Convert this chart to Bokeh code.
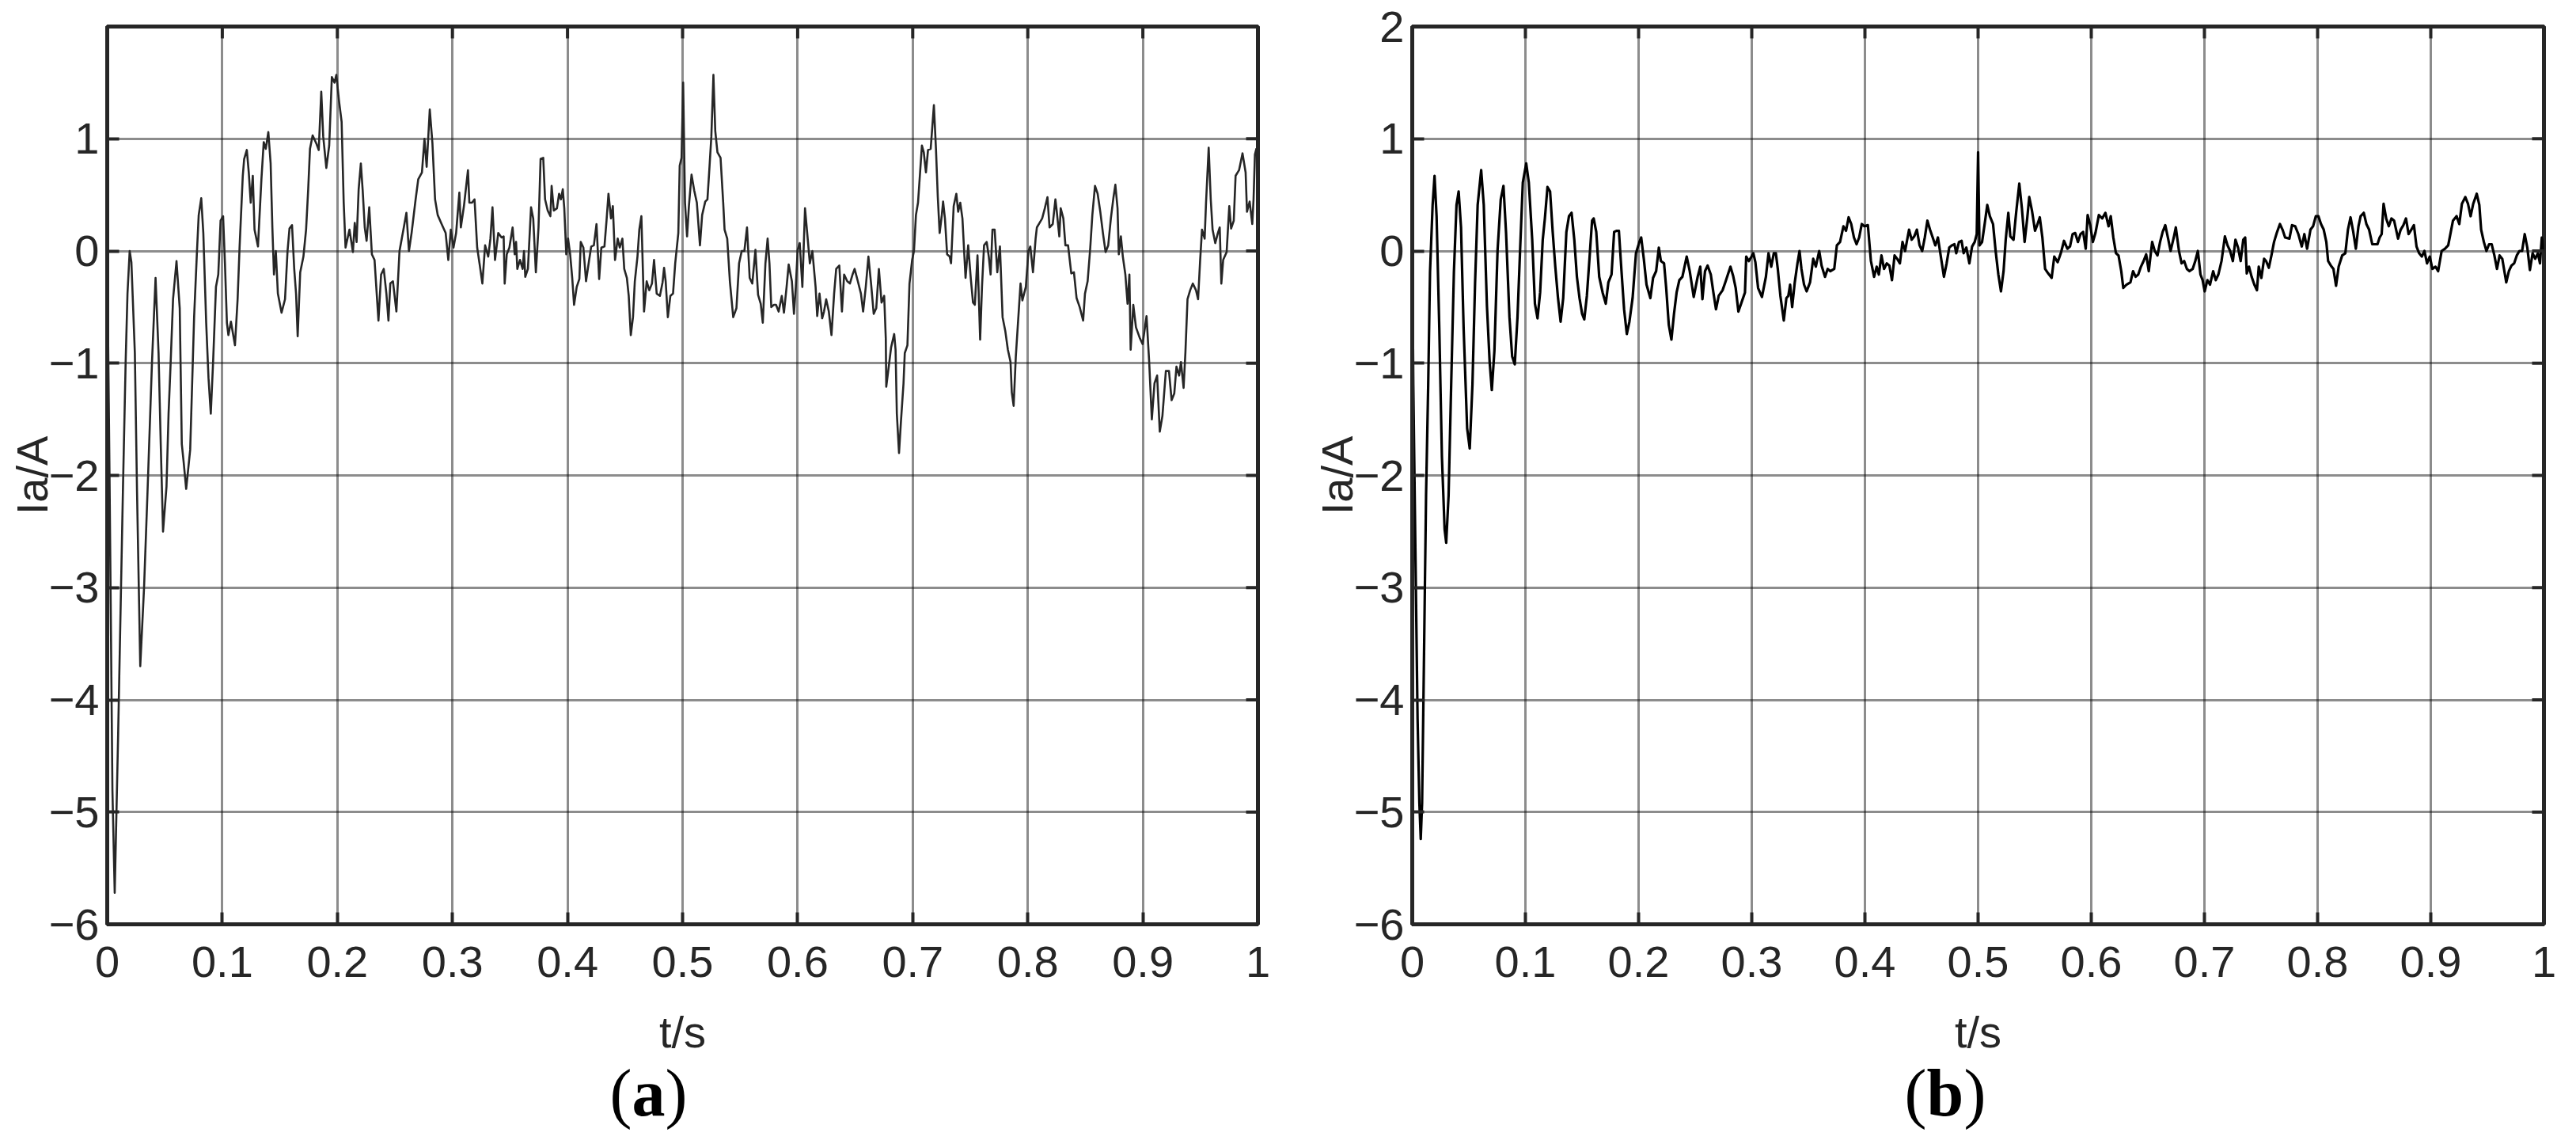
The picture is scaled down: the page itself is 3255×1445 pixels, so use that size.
from bokeh.plotting import figure
from bokeh.layouts import row, column
from bokeh.models import Range1d, FixedTicker, Label
from bokeh.embed import file_html
from bokeh.resources import INLINE

# ---------------- data ----------------
T_A = [
    0.0, 0.002, 0.0045, 0.0065, 0.0095, 0.0137, 0.016, 0.0176, 0.0195, 0.021,
    0.024, 0.0259, 0.0287, 0.032, 0.035, 0.0389, 0.042, 0.0446, 0.0465, 0.0485,
    0.0515, 0.0533, 0.0549, 0.0572, 0.0602, 0.063, 0.0648, 0.0664, 0.0686, 0.0721,
    0.0755, 0.078, 0.0795, 0.0817, 0.0835, 0.086, 0.088, 0.09, 0.092, 0.0945,
    0.0965, 0.0985, 0.1007, 0.1023, 0.104, 0.1053, 0.1075, 0.111, 0.1133, 0.115,
    0.1178, 0.119, 0.1213, 0.123, 0.1247, 0.1265, 0.128, 0.131, 0.134, 0.136,
    0.1378, 0.14, 0.142, 0.1435, 0.1449, 0.1465, 0.1483, 0.1515, 0.1545, 0.1567,
    0.1584, 0.1606, 0.1625, 0.1641, 0.1655, 0.1677, 0.1705, 0.1728, 0.1746, 0.1762,
    0.1785, 0.182, 0.1838, 0.186, 0.1877, 0.1904, 0.1929, 0.1952, 0.1975, 0.1991,
    0.2014, 0.2037, 0.2055, 0.2071, 0.2105, 0.2135, 0.2151, 0.2167, 0.2185, 0.2204,
    0.222, 0.2238, 0.2254, 0.2277, 0.23, 0.2323, 0.2357, 0.238, 0.2403, 0.2426,
    0.2444, 0.246, 0.2483, 0.2513, 0.254, 0.2574, 0.26, 0.2622, 0.2645, 0.268,
    0.2703, 0.2735, 0.2757, 0.2776, 0.2803, 0.2826, 0.2849, 0.2872, 0.2906, 0.2941,
    0.2964, 0.2986, 0.3009, 0.3032, 0.306, 0.3073, 0.31, 0.3135, 0.3147, 0.317,
    0.3192, 0.3215, 0.3238, 0.326, 0.3284, 0.3311, 0.333, 0.3348, 0.337, 0.3398,
    0.3427, 0.3445, 0.3454, 0.3472, 0.3495, 0.3523, 0.3541, 0.3553, 0.3564, 0.3587,
    0.361, 0.3622, 0.3633, 0.3656, 0.3683, 0.3702, 0.3725, 0.3748, 0.3766, 0.3789,
    0.3805, 0.3828, 0.3851, 0.3862, 0.3881, 0.3908, 0.3927, 0.3943, 0.3959, 0.3972,
    0.3989, 0.4005, 0.4023, 0.4041, 0.4057, 0.408, 0.4103, 0.4115, 0.4138, 0.4161,
    0.4188, 0.4206, 0.4229, 0.4252, 0.4275, 0.4294, 0.4321, 0.4339, 0.4356, 0.4378,
    0.4394, 0.4413, 0.4436, 0.4454, 0.4477, 0.4493, 0.4516, 0.4532, 0.455, 0.4569,
    0.4585, 0.4608, 0.4624, 0.4642, 0.4665, 0.4688, 0.4711, 0.4734, 0.4752, 0.4775,
    0.4803, 0.4826, 0.4839, 0.4853, 0.4872, 0.4894, 0.4917, 0.4936, 0.4963, 0.4975,
    0.4991, 0.5005, 0.5021, 0.5039, 0.5055, 0.5078, 0.5101, 0.5124, 0.5151, 0.517,
    0.5197, 0.5216, 0.5234, 0.525, 0.5268, 0.5284, 0.5303, 0.533, 0.5353, 0.5365,
    0.5388, 0.5411, 0.544, 0.5468, 0.5491, 0.5514, 0.5537, 0.556, 0.5583, 0.5606,
    0.5633, 0.5656, 0.5679, 0.5697, 0.572, 0.5739, 0.5755, 0.5771, 0.5794, 0.5812,
    0.5835, 0.5862, 0.5881, 0.5904, 0.5922, 0.595, 0.5968, 0.5984, 0.6, 0.6018,
    0.6041, 0.6064, 0.6083, 0.6106, 0.6128, 0.6156, 0.617, 0.619, 0.6213, 0.6229,
    0.6248, 0.6271, 0.6294, 0.6317, 0.6335, 0.6362, 0.6385, 0.6404, 0.6431, 0.6454,
    0.6477, 0.6495, 0.6523, 0.655, 0.6569, 0.6592, 0.6615, 0.6638, 0.6661, 0.6683,
    0.6706, 0.6729, 0.6752, 0.6766, 0.677,
    0.6793, 0.6812, 0.6839, 0.6851, 0.6862, 0.6881, 0.6897, 0.692, 0.6931, 0.6954,
    0.6972, 0.6995, 0.7011, 0.7028, 0.7046, 0.7064, 0.708, 0.7096, 0.7115, 0.7133,
    0.7156, 0.7172, 0.7184, 0.7202, 0.7218, 0.7234, 0.7253, 0.7264, 0.728, 0.7299,
    0.7321, 0.7333, 0.7356, 0.7379, 0.7395, 0.7413, 0.7432, 0.7459, 0.7482, 0.7505,
    0.7524, 0.754, 0.7563, 0.7586, 0.7602, 0.762, 0.7643, 0.7661, 0.7677, 0.7693,
    0.7712, 0.7735, 0.7758, 0.7781, 0.7804, 0.7827, 0.785, 0.7861, 0.7877, 0.7896,
    0.7918, 0.7937, 0.7953, 0.7983, 0.8006, 0.8022, 0.8045, 0.8068, 0.8079, 0.8102,
    0.8125, 0.8148, 0.8171, 0.8189, 0.8217, 0.824, 0.8251, 0.8274, 0.8286, 0.8309,
    0.8327, 0.835, 0.8378, 0.8401, 0.8424, 0.8451, 0.8481, 0.8497, 0.852, 0.8543,
    0.8561, 0.8584, 0.8607, 0.863, 0.8653, 0.8676, 0.8699, 0.8722, 0.8745, 0.8761,
    0.878, 0.8791, 0.8809, 0.8826, 0.8848, 0.8867, 0.8883, 0.8894, 0.8917, 0.894,
    0.8975, 0.8998, 0.9032, 0.9055, 0.9078, 0.9101, 0.9124, 0.9147, 0.917, 0.92,
    0.9227, 0.925, 0.9273, 0.9292, 0.9315, 0.9331, 0.9354, 0.937, 0.9388, 0.9411,
    0.9434, 0.9462, 0.948, 0.9498, 0.9514, 0.9537, 0.9549, 0.9572, 0.959, 0.9606,
    0.9629, 0.9652, 0.9668, 0.9682, 0.9698, 0.9728, 0.9751, 0.9767, 0.979, 0.9806,
    0.9836, 0.9866, 0.9893, 0.9905, 0.9928, 0.9951, 0.9962, 0.9974, 0.9986, 1.0,
]
I_A = [
    0.0, -2.0, -4.8, -5.72, -4.3, -2.1, -0.99, -0.38, 0.0, -0.1,
    -0.91, -2.15, -3.7, -3.0, -2.15, -0.99, -0.24, -0.91, -1.72, -2.5,
    -2.1, -1.45, -1.05, -0.43, -0.09, -0.51, -1.72, -1.88, -2.12, -1.77,
    -0.59, 0.0, 0.32, 0.47, 0.16, -0.64, -1.13, -1.45, -0.99, -0.32,
    -0.21, 0.27, 0.31, -0.11, -0.64, -0.75, -0.63, -0.84, -0.43, 0.03,
    0.67, 0.82, 0.9, 0.7, 0.43, 0.67, 0.19, 0.04, 0.64, 0.97,
    0.91, 1.06, 0.78, 0.21, -0.21, 0.0, -0.38, -0.55, -0.43, 0.0,
    0.2, 0.23, -0.16, -0.38, -0.76, -0.19, -0.05, 0.19, 0.54, 0.91,
    1.03, 0.95, 0.9, 1.42, 1.02, 0.74, 0.94, 1.55, 1.5, 1.57,
    1.34, 1.15, 0.43, 0.03, 0.19, -0.01, 0.25, 0.08, 0.55, 0.78,
    0.54, 0.21, 0.09, 0.39, -0.03, -0.08, -0.62, -0.21, -0.16, -0.38,
    -0.62, -0.29, -0.27, -0.54, 0.0, 0.19, 0.34, 0.0, 0.16, 0.46,
    0.64, 0.7, 1.0, 0.75, 1.26, 0.96, 0.46, 0.32, 0.24, 0.16,
    -0.08, 0.19, 0.03, 0.16, 0.52, 0.21, 0.4, 0.72, 0.43, 0.43,
    0.46, 0.03, -0.13, -0.29, 0.05, -0.05, 0.11, 0.39, -0.08, 0.16,
    0.12, 0.13, -0.29, -0.03, 0.03, 0.21, -0.03, 0.08, -0.16, -0.08,
    -0.16, 0.0, -0.23, -0.16, 0.39, 0.29, -0.19, 0.21, 0.82, 0.83,
    0.46, 0.36, 0.31, 0.58, 0.36, 0.38, 0.51, 0.46, 0.55, 0.38,
    -0.03, 0.11, -0.03, -0.24, -0.48, -0.32, -0.25, 0.08, 0.03, -0.27,
    -0.08, 0.04, 0.05, 0.24, -0.25, 0.03, 0.04, 0.27, 0.51, 0.29,
    0.4, -0.08, 0.11, 0.03, 0.11, -0.16, -0.24, -0.4, -0.75, -0.59,
    -0.27, -0.05, 0.19, 0.31, -0.54, -0.27, -0.35, -0.29, -0.08, -0.38,
    -0.4, -0.28, -0.15, -0.27, -0.59, -0.4, -0.38, -0.11, 0.16, 0.76,
    0.83, 1.5, 0.43, 0.13, 0.4, 0.68, 0.54, 0.43, 0.05, 0.32,
    0.44, 0.46, 0.75, 1.02, 1.57, 1.07, 0.88, 0.83, 0.43, 0.19,
    0.11, -0.27, -0.59, -0.51, -0.11, 0.0, 0.0, 0.21, -0.24, -0.29,
    0.01, -0.39, -0.47, -0.64, -0.11, 0.11, -0.11, -0.5, -0.48, -0.48,
    -0.54, -0.4, -0.55, -0.32, -0.12, -0.27, -0.56, -0.32, 0.01, 0.07,
    -0.32, 0.38, 0.16, -0.11, 0.0, -0.32, -0.58, -0.38, -0.6, -0.54,
    -0.43, -0.54, -0.75, -0.38, -0.16, -0.13, -0.54, -0.21, -0.27, -0.29,
    -0.21, -0.16, -0.27, -0.38, -0.54, -0.32, -0.05, -0.29, -0.56, -0.51,
    -0.16, -0.46, -0.4, -0.78, -1.21,
    -1.02, -0.86, -0.74, -0.88, -1.45, -1.8, -1.53, -1.18, -0.91, -0.84,
    -0.29, -0.08, 0.0, 0.32, 0.43, 0.7, 0.94, 0.88, 0.7, 0.9,
    0.91, 1.13, 1.3, 0.91, 0.48, 0.16, 0.32, 0.44, 0.29, -0.03,
    -0.05, -0.11, 0.4, 0.51, 0.35, 0.43, 0.29, -0.24, 0.05, -0.25,
    -0.46, -0.48, -0.04, -0.79, -0.32, 0.05, 0.08, -0.05, -0.21, 0.19,
    0.19, -0.19, 0.04, -0.59, -0.71, -0.88, -0.99, -1.26, -1.38, -0.94,
    -0.59, -0.29, -0.44, -0.32, 0.0, 0.04, -0.19, 0.11, 0.21, 0.25,
    0.29, 0.38, 0.48, 0.21, 0.24, 0.46, 0.36, 0.13, 0.38, 0.29,
    0.05, 0.05, -0.2, -0.19, -0.42, -0.5, -0.62, -0.38, -0.27, 0.03,
    0.32, 0.58, 0.51, 0.35, 0.16, -0.01, 0.05, 0.29, 0.48, 0.59,
    0.38, -0.03, 0.13, -0.05, -0.21, -0.47, -0.21, -0.88, -0.48, -0.68,
    -0.78, -0.83, -0.58, -0.99, -1.5, -1.18, -1.11, -1.61, -1.47, -1.07,
    -1.07, -1.33, -1.27, -1.03, -1.11, -0.99, -1.22, -0.9, -0.43, -0.35,
    -0.29, -0.35, -0.43, -0.08, 0.19, 0.11, 0.43, 0.92, 0.46, 0.19,
    0.07, 0.16, 0.21, -0.29, -0.08, -0.01, 0.4, 0.2, 0.27, 0.67,
    0.72, 0.87, 0.7, 0.35, 0.44, 0.24, 0.46, 0.86, 0.91, 0.75,
]

T_B = [
    0.0, 0.0009, 0.0028, 0.0047, 0.0063, 0.0075, 0.0087, 0.0103, 0.0122, 0.0141,
    0.0157, 0.018, 0.0197, 0.0215, 0.0239, 0.0262, 0.0286, 0.03, 0.0321, 0.0344,
    0.0368, 0.0391, 0.041, 0.0431, 0.0454, 0.0485, 0.0508, 0.0532, 0.0555, 0.0578,
    0.0609, 0.0632, 0.066, 0.0684, 0.0703, 0.0726, 0.0754, 0.0782, 0.0806, 0.0829,
    0.0859, 0.0883, 0.0906, 0.093, 0.0953, 0.0977, 0.1007, 0.103,
    0.106, 0.1084, 0.1107, 0.113, 0.1153, 0.1172, 0.1195, 0.1218, 0.1241, 0.1264,
    0.1288, 0.1311, 0.1334, 0.1362, 0.1385, 0.1408, 0.1432, 0.1455, 0.1478, 0.1501,
    0.152, 0.1543, 0.1566, 0.1589, 0.1603, 0.1626, 0.1652, 0.1682, 0.171, 0.1733,
    0.1761, 0.1784, 0.1807, 0.1826, 0.1849, 0.1872, 0.1896, 0.1919, 0.1947, 0.1977,
    0.2007, 0.2023, 0.2046, 0.207, 0.2104, 0.2128, 0.2155, 0.2179, 0.2197, 0.2225,
    0.2244, 0.2267, 0.229, 0.2313, 0.2336, 0.236, 0.2387, 0.2425, 0.2452, 0.2487,
    0.2522, 0.2545, 0.2564, 0.2587, 0.261, 0.2638, 0.2661, 0.2684, 0.2708, 0.2742,
    0.2766, 0.2789, 0.2812, 0.2835, 0.2858, 0.2882, 0.2916, 0.294, 0.2951, 0.2974,
    0.2998, 0.3014, 0.3032, 0.3056, 0.309, 0.3125, 0.3148, 0.3172, 0.3195, 0.3213,
    0.323, 0.3253, 0.3283, 0.3306, 0.3323, 0.3339, 0.3357, 0.338, 0.3404, 0.3422,
    0.3439, 0.3462, 0.3485, 0.3515, 0.3543, 0.3566, 0.3596, 0.3617, 0.3647, 0.3671,
    0.3694, 0.3729, 0.3752, 0.378, 0.381, 0.3833, 0.3856, 0.3879, 0.3903, 0.3926,
    0.3949, 0.3972, 0.3995, 0.4026, 0.4053, 0.4081, 0.4104, 0.4123, 0.4146, 0.4169,
    0.4193, 0.4216, 0.4239, 0.4262, 0.4285, 0.4309, 0.4332, 0.4355, 0.439, 0.4413,
    0.4436, 0.4459, 0.4483, 0.4506, 0.4529, 0.4552, 0.4575, 0.4599, 0.4622, 0.4645,
    0.4698, 0.4722, 0.4745, 0.4768, 0.4791, 0.4807, 0.4831, 0.4854, 0.4872, 0.4896,
    0.4923, 0.4947, 0.497, 0.4988, 0.5, 0.5012, 0.5035, 0.5058, 0.5081, 0.5104,
    0.5132, 0.5155, 0.5179, 0.5202, 0.5225, 0.5244, 0.5267, 0.5285, 0.5313, 0.5336,
    0.5364, 0.5387, 0.5411, 0.5434, 0.5452, 0.5476, 0.5503, 0.5522, 0.5545, 0.5568,
    0.5592, 0.5619, 0.565, 0.5673, 0.5703, 0.5731, 0.5759, 0.5789, 0.5812, 0.5835,
    0.5858, 0.5882, 0.5905, 0.5928, 0.5951, 0.5968, 0.5991, 0.6014, 0.6037, 0.6067,
    0.6097, 0.6125, 0.6153, 0.6172, 0.6195, 0.6218, 0.6241, 0.6265, 0.6283, 0.6311,
    0.6346, 0.6369, 0.6392, 0.6415, 0.6439, 0.6462, 0.6485, 0.6508, 0.6538, 0.6561,
    0.6585, 0.6608, 0.6631, 0.6654, 0.6677, 0.6701, 0.6729, 0.6747, 0.6775, 0.6798,
    0.6821, 0.6845, 0.6868, 0.6896, 0.6919, 0.6942, 0.6965, 0.6984, 0.7002, 0.7026,
    0.7049, 0.7077, 0.71, 0.7123, 0.7151, 0.7181, 0.7204, 0.7227, 0.7251, 0.7274,
    0.7297, 0.732, 0.7343, 0.736, 0.7374,
    0.7394, 0.7417, 0.7441, 0.7464, 0.748, 0.7503, 0.7527, 0.7545, 0.7569, 0.7592,
    0.7615, 0.7639, 0.7667, 0.769, 0.7713, 0.7751, 0.7774, 0.7802, 0.783, 0.786,
    0.7883, 0.7907, 0.7937, 0.796, 0.7984, 0.8007, 0.803, 0.8054, 0.8077, 0.8093,
    0.8117, 0.814, 0.8163, 0.8186, 0.8217, 0.8245, 0.8268, 0.8291, 0.8315, 0.8338,
    0.8361, 0.838, 0.8408, 0.8431, 0.8455, 0.8483, 0.8506, 0.8529, 0.8548, 0.8566,
    0.8583, 0.8606, 0.8629, 0.8653, 0.8676, 0.8711, 0.8734, 0.8758, 0.8781, 0.8804,
    0.8828, 0.8851, 0.8874, 0.8897, 0.8921, 0.8944, 0.8967, 0.8991, 0.9014, 0.9042,
    0.9065, 0.9096, 0.9126, 0.9154, 0.9177, 0.9196, 0.9228, 0.9252, 0.9275, 0.9305,
    0.9329, 0.9352, 0.9375, 0.9406, 0.9429, 0.9445, 0.9469, 0.9492, 0.9515, 0.9538,
    0.9562, 0.9585, 0.9608, 0.9632, 0.9667, 0.969, 0.9713, 0.9737, 0.976, 0.9783,
    0.9807, 0.983, 0.9853, 0.9876, 0.99, 0.9923, 0.9946, 0.9965, 0.9981, 1.0,
]
I_B = [
    0.0, -1.19, -2.68, -4.17, -4.92, -5.24, -4.92, -3.68, -2.18, -1.19,
    -0.19, 0.41, 0.67, 0.31, -0.69, -1.83, -2.48, -2.6, -2.18, -1.19,
    -0.19, 0.41, 0.53, 0.21, -0.69, -1.58, -1.76, -1.19, -0.29, 0.41,
    0.72, 0.41, -0.49, -0.99, -1.24, -0.89, 0.01, 0.46, 0.58, 0.16,
    -0.59, -0.94, -1.01, -0.59, 0.01, 0.61, 0.78, 0.61,
    0.1, -0.47, -0.6, -0.37, 0.1, 0.29, 0.57, 0.53, 0.17, -0.14,
    -0.42, -0.63, -0.42, 0.17, 0.31, 0.34, 0.1, -0.23, -0.42, -0.56,
    -0.61, -0.4, -0.07, 0.27, 0.29, 0.17, -0.23, -0.37, -0.47, -0.28,
    -0.21, 0.17, 0.18, 0.18, -0.18, -0.52, -0.74, -0.63, -0.42, -0.02,
    0.08, 0.12, -0.07, -0.3, -0.42, -0.24, -0.18, 0.03, -0.09, -0.11,
    -0.33, -0.66, -0.79, -0.56, -0.37, -0.26, -0.23, -0.05, -0.18, -0.41,
    -0.23, -0.14, -0.43, -0.18, -0.13, -0.21, -0.37, -0.52, -0.4, -0.35,
    -0.28, -0.21, -0.14, -0.22, -0.33, -0.54, -0.44, -0.37, -0.05, -0.09,
    -0.05, -0.02, -0.1, -0.33, -0.41, -0.23, -0.02, -0.14, -0.02, -0.02,
    -0.16, -0.4, -0.62, -0.42, -0.4, -0.3, -0.5, -0.28, -0.11, 0.0,
    -0.16, -0.3, -0.36, -0.28, -0.07, -0.14, 0.0, -0.13, -0.23, -0.16,
    -0.18, -0.16, 0.05, 0.08, 0.22, 0.18, 0.3, 0.24, 0.12, 0.06,
    0.12, 0.24, 0.22, 0.23, -0.09, -0.23, -0.14, -0.21, -0.04, -0.16,
    -0.11, -0.13, -0.26, -0.04, -0.07, -0.11, 0.08, 0.0, 0.19, 0.1,
    0.13, 0.19, 0.05, 0.0, 0.12, 0.27, 0.19, 0.12, 0.05, 0.12,
    -0.23, -0.11, 0.03, 0.05, 0.06, -0.02, 0.08, 0.09, -0.02, 0.03,
    -0.11, 0.04, 0.08, 0.15, 0.88, 0.05, 0.08, 0.24, 0.41, 0.31,
    0.24, 0.0, -0.21, -0.36, -0.18, 0.1, 0.34, 0.13, 0.1, 0.34,
    0.6, 0.38, 0.08, 0.29, 0.48, 0.36, 0.18, 0.23, 0.3, 0.12,
    -0.16, -0.2, -0.24, -0.05, -0.1, -0.02, 0.09, 0.02, 0.04, 0.15,
    0.16, 0.08, 0.15, 0.17, 0.02, 0.32, 0.23, 0.08, 0.16, 0.32,
    0.29, 0.34, 0.22, 0.31, 0.12, -0.02, -0.04, -0.18, -0.33, -0.3,
    -0.28, -0.18, -0.23, -0.21, -0.14, -0.09, -0.03, -0.18, 0.08, 0.0,
    -0.04, 0.08, 0.17, 0.23, 0.12, 0.0, 0.12, 0.21, 0.0, -0.11,
    -0.09, -0.16, -0.18, -0.16, -0.09, 0.0, -0.21, -0.26, -0.36, -0.26,
    -0.3, -0.18, -0.26, -0.21, -0.09, 0.13, 0.05, 0.0, -0.09, 0.1,
    0.03, -0.09, 0.1, 0.12, -0.2,
    -0.14, -0.23, -0.3, -0.35, -0.14, -0.24, -0.07, -0.09, -0.15, -0.04,
    0.08, 0.16, 0.24, 0.19, 0.12, 0.11, 0.23, 0.22, 0.15, 0.04,
    0.15, 0.02, 0.19, 0.22, 0.31, 0.31, 0.24, 0.19, 0.08, -0.09,
    -0.13, -0.16, -0.31, -0.14, -0.04, -0.02, 0.19, 0.3, 0.17, 0.02,
    0.22, 0.31, 0.34, 0.24, 0.19, 0.06, 0.06, 0.06, 0.12, 0.15,
    0.42, 0.29, 0.22, 0.29, 0.27, 0.11, 0.19, 0.23, 0.29, 0.15,
    0.19, 0.23, 0.04, -0.02, -0.05, 0.0, -0.11, -0.05, -0.16, -0.14,
    -0.18, 0.0, 0.02, 0.05, 0.17, 0.27, 0.31, 0.24, 0.42, 0.48,
    0.42, 0.31, 0.42, 0.51, 0.41, 0.19, 0.08, 0.0, 0.06, 0.06,
    -0.04, -0.16, -0.04, -0.07, -0.28, -0.18, -0.13, -0.11, -0.04, 0.0,
    0.0, 0.15, 0.03, -0.17, -0.02, -0.07, -0.02, -0.11, 0.12, 0.0,
]

X_TICKS = [0, 0.1, 0.2, 0.3, 0.4, 0.5, 0.6, 0.7, 0.8, 0.9, 1]
X_LABELS = ["0", "0.1", "0.2", "0.3", "0.4", "0.5", "0.6", "0.7", "0.8", "0.9", "1"]
Y_TICKS = [-6, -5, -4, -3, -2, -1, 0, 1, 2]
Y_LABELS_A = ["\u22126", "\u22125", "\u22124", "\u22123", "\u22122", "\u22121", "0", "1", ""]
Y_LABELS_B = ["\u22126", "\u22125", "\u22124", "\u22123", "\u22122", "\u22121", "0", "1", "2"]
X_TITLE = "t/s"
Y_TITLE = "Ia/A"
TAGS = ["a", "b"]

INK = "#262626"
SANS = "Liberation Sans"
SERIF = "Liberation Serif"

PAGE_H = 1445
TOP = 33
FRAME_H = 1134
BOTTOM = 94                       # room for the tick labels only
MAIN_H = TOP + FRAME_H + BOTTOM   # plotting row
CAP_H = PAGE_H - MAIN_H           # row holding the x title and the panel tag


def style_axis(ax, ticks, labels, standoff):
    ax.ticker = FixedTicker(ticks=ticks)
    ax.major_label_overrides = dict(zip(ticks, labels))
    ax.axis_line_color = INK
    ax.axis_line_width = 5
    ax.major_tick_line_color = INK
    ax.major_tick_line_width = 4
    ax.major_tick_in = 15
    ax.major_tick_out = 0
    ax.minor_tick_line_color = None
    ax.major_label_text_font = SANS
    ax.major_label_text_color = INK
    ax.major_label_standoff = standoff
    ax.major_label_text_font_size = "56px"
    ax.axis_label_text_font = SANS
    ax.axis_label_text_font_size = "56px"
    ax.axis_label_text_font_style = "normal"
    ax.axis_label_text_color = INK


def panel(t, cur, ylabels, width, left, right, color, lw):
    p = figure(width=width, height=MAIN_H, x_range=Range1d(0, 1), y_range=Range1d(-6, 2),
               output_backend="svg", toolbar_location=None,
               min_border_left=left, min_border_right=right,
               min_border_top=TOP, min_border_bottom=BOTTOM)
    p.outline_line_color = INK
    p.outline_line_width = 5
    p.background_fill_color = "white"
    p.border_fill_color = "white"

    xa, ya = p.below[0], p.left[0]
    style_axis(xa, X_TICKS, X_LABELS, 28)
    style_axis(ya, Y_TICKS, ylabels, 10)
    ya.axis_label = Y_TITLE
    ya.axis_label_standoff = -13

    for g, ticks in ((p.xgrid[0], X_TICKS), (p.ygrid[0], Y_TICKS)):
        g.ticker = FixedTicker(ticks=ticks)
        g.grid_line_color = "black"
        g.grid_line_alpha = 0.45
        g.grid_line_width = 3

    p.line(t, cur, line_color=color, line_width=lw, line_join="round")

    # inward tick marks on the top and right edges of the box
    p.rect(x=X_TICKS, y=[Y_TICKS[-1]] * len(X_TICKS), width=4, height=30,
           width_units="screen", height_units="screen", fill_color=INK, line_color=None)
    p.rect(x=[X_TICKS[-1]] * len(Y_TICKS), y=Y_TICKS, width=30, height=4,
           width_units="screen", height_units="screen", fill_color=INK, line_color=None)
    return p


def caption_fig(width, left, right, tag, xs):
    # same horizontal scale as the panel above it (t from 0 to 1)
    f = figure(width=width, height=CAP_H, x_range=Range1d(0, 1), y_range=Range1d(0, 1),
               title=None, output_backend="svg", toolbar_location=None,
               x_axis_type=None, y_axis_type=None, min_border=0,
               min_border_left=left, min_border_right=right,
               min_border_top=0, min_border_bottom=0)
    f.outline_line_color = None
    f.background_fill_color = "white"
    f.border_fill_color = "white"
    f.add_layout(Label(x=0.5, y=0.77, text=X_TITLE, text_align="center",
                       text_baseline="alphabetic", text_font=SANS,
                       text_font_size="56px", text_color=INK))
    parts = [("(", "normal"), (tag, "bold"), (")", "normal")]
    for (txt, style), xx in zip(parts, xs):
        f.add_layout(Label(x=xx, y=0.355, text=txt, text_align="left",
                           text_baseline="alphabetic", text_font=SERIF,
                           text_font_size="84px", text_font_style=style,
                           text_color="black"))
    return f


pa = panel(T_A, I_A, Y_LABELS_A, 1654, 135, 65, "#262626", 2.6)
pb = panel(T_B, I_B, Y_LABELS_B, 1601, 130, 41, "black", 3.2)

ca = caption_fig(1654, 135, 65, TAGS[0], [0.4367, 0.456, 0.4849])
cb = caption_fig(1601, 130, 41, TAGS[1], [0.435, 0.4545, 0.4874])

layout = column(row(pa, pb), row(ca, cb))
open("out.html", "w").write(file_html(layout, INLINE, title="Ia current"))
